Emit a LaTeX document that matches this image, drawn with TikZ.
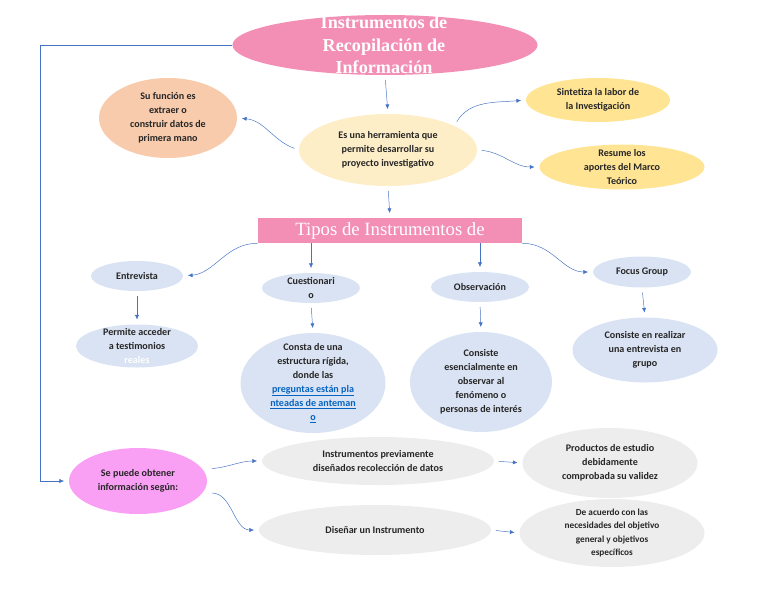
\documentclass[tikz,border=0pt]{standalone}
\usepackage{fontspec}
\setmainfont{Carlito}
\newfontfamily\ttlfont{Liberation Serif}
\usetikzlibrary{shapes.geometric,arrows.meta}

\definecolor{titlepink}{RGB}{243,143,180}
\definecolor{peach}{RGB}{247,203,172}
\definecolor{paleyellow}{RGB}{253,238,200}
\definecolor{gold}{RGB}{255,228,148}
\definecolor{paleblue}{RGB}{218,227,243}
\definecolor{palegray}{RGB}{237,237,237}
\definecolor{orchid}{RGB}{249,160,245}
\definecolor{linkblue}{RGB}{5,99,193}
\definecolor{arrowblue}{RGB}{68,114,196}

\tikzset{
  bubble/.style={ellipse, inner sep=0pt, draw=none},
  txt/.style={align=center, font=\fontsize{8.6}{12}\selectfont\bfseries, text=black!85},
  arr/.style={draw=arrowblue, -{Latex[length=4pt,width=3.5pt]}, shorten >=4pt, shorten <=4pt},
}

\begin{document}
\begin{tikzpicture}[x=0.03cm,y=-0.03cm]
\useasboundingbox (0,0) rectangle (768,594);

% cabecera
\node[bubble, fill=titlepink, minimum width=9.15cm, minimum height=1.8cm] (title) at (385,45) {};
\node[align=center, text=white, font=\ttlfont\fontsize{15.5}{19}\selectfont\bfseries] (title-t) at (384,45) {Instrumentos de\\Recopilación de\\Información};

\node[bubble, fill=peach, minimum width=4.14cm, minimum height=2.4cm] (funcion) at (168,118) {};
\node[txt] (funcion-t) at (funcion) {Su función es\\extraer o\\construir datos de\\primera mano};

\node[bubble, fill=paleyellow, minimum width=5.34cm, minimum height=2.16cm] (herram) at (388,150) {};
\node[txt] (herram-t) at (herram) {Es una herramienta que\\permite desarrollar su\\proyecto investigativo};

\node[bubble, fill=gold, minimum width=4.32cm, minimum height=1.32cm] (sintet) at (598,100) {};
\node[txt] (sintet-t) at (sintet) {Sintetiza la labor de\\la Investigación};

\node[bubble, fill=gold, minimum width=4.95cm, minimum height=1.35cm] (resume) at (622,167) {};
\node[txt] (resume-t) at (resume) {Resume los\\aportes del Marco\\Teórico};

% tipos
\node[fill=titlepink, minimum width=7.92cm, minimum height=0.75cm, inner sep=0pt, text=white,
  font=\ttlfont\fontsize{16}{18}\selectfont] (tipos) at (390,230.5) {Tipos de Instrumentos de};

\node[bubble, fill=paleblue, minimum width=2.76cm, minimum height=0.9cm] (entrev) at (137,276) {};
\node[txt] (entrev-t) at (entrev) {Entrevista};
\node[bubble, fill=paleblue, minimum width=2.94cm, minimum height=0.9cm] (cuest) at (311,288) {};
\node[txt] (cuest-t) at (cuest) {Cuestionari\\o};
\node[bubble, fill=paleblue, minimum width=2.94cm, minimum height=0.9cm] (observ) at (480,287) {};
\node[txt] (observ-t) at (observ) {Observación};
\node[bubble, fill=paleblue, minimum width=2.94cm, minimum height=0.93cm] (focus) at (642,272) {};
\node[txt] (focus-t) at (focus) {Focus Group};

\node[bubble, fill=paleblue, minimum width=3.66cm, minimum height=1.29cm] (acceder) at (137,346) {};
\node[txt] (acceder-t) at (acceder) {Permite acceder\\a testimonios\\\textcolor{white}{reales}};
\node[bubble, fill=paleblue, minimum width=4.35cm, minimum height=3cm] (consta) at (313,383) {};
\node[txt] (consta-t) at (consta) {Consta de una\\estructura rígida,\\donde las\\
  \textcolor{linkblue}{\underline{preguntas están pla}}\\
  \textcolor{linkblue}{\underline{nteadas de anteman}}\\
  \textcolor{linkblue}{\underline{o}}};
\node[bubble, fill=paleblue, minimum width=4.26cm, minimum height=3cm] (esencial) at (481,382) {};
\node[txt] (esencial-t) at (esencial) {Consiste\\esencialmente en\\observar al\\fenómeno o\\personas de interés};
\node[bubble, fill=paleblue, minimum width=4.35cm, minimum height=1.95cm] (grupo) at (645,350) {};
\node[txt] (grupo-t) at (grupo) {Consiste en realizar\\una entrevista en\\grupo};

% obtener
\node[bubble, fill=orchid, minimum width=4.14cm, minimum height=1.98cm] (segun) at (138,481) {};
\node[txt] (segun-t) at (segun) {Se puede obtener\\información según:};
\node[bubble, fill=palegray, minimum width=6.96cm, minimum height=1.44cm] (previo) at (378,461) {};
\node[txt] (previo-t) at (previo) {Instrumentos previamente\\diseñados recolección de datos};
\node[bubble, fill=palegray, minimum width=6.96cm, minimum height=1.5cm] (disenar) at (375,530) {};
\node[txt] (disenar-t) at (disenar) {Diseñar un Instrumento};
\node[bubble, fill=palegray, minimum width=5.25cm, minimum height=2.1cm] (productos) at (610,463) {};
\node[txt] (productos-t) at (productos) {Productos de estudio\\debidamente\\comprobada su validez};
\node[bubble, fill=palegray, minimum width=5.55cm, minimum height=2.04cm] (acuerdo) at (612,533) {};
\node[txt, font=\fontsize{7.9}{11.2}\selectfont\bfseries] (acuerdo-t) at (acuerdo) {De acuerdo con las\\necesidades del objetivo\\general y objetivos\\específicos};

% conectores
\coordinate (esq) at (40,45);
\draw[arr] (title.south) -- (herram.north);
\draw[arr] (herram.west) to[out=160,in=-5] (funcion.east);
\draw[arr] (herram.20) to[out=60,in=185] (sintet.west);
\draw[arr] (herram.east) to[out=-5,in=180] (resume.west);
\draw[arr] (herram.south) -- (tipos.north);
\draw[arr, shorten <=0pt] (tipos.south west) to[out=180,in=5] (entrev.east);
\draw[arr, shorten <=0pt] (cuest.north |- tipos.south) -- (cuest.north);
\draw[arr, shorten <=0pt] (observ.north |- tipos.south) -- (observ.north);
\draw[arr, shorten <=0pt] (tipos.south east) to[out=0,in=180] (focus.west);
\draw[arr] (entrev.south) -- (acceder.north);
\draw[arr] (cuest.south) -- (consta.north);
\draw[arr] (observ.south) -- (esencial.north);
\draw[arr] (focus.south) -- (grupo.north);
\draw[arr, shorten <=0pt] (title.west) -- (esq) |- (segun.west);
\draw[arr] (segun.east) ++(0,-12) to[out=5,in=180] (previo.west);
\draw[arr] (segun.east) ++(0,12) to[out=0,in=180] (disenar.west);
\draw[arr] (previo.east) -- (productos.west);
\draw[arr] (disenar.east) -- (acuerdo.west);
\end{tikzpicture}
\end{document}
